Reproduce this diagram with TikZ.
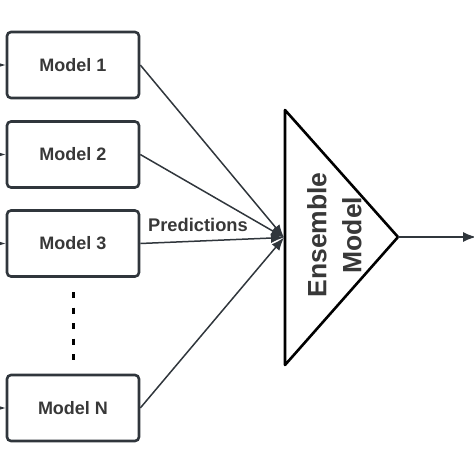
\documentclass[tikz,border=0pt]{standalone}
\usepackage{fontspec}
\setmainfont{Liberation Sans}
\usetikzlibrary{arrows.meta}
\definecolor{stroke}{HTML}{30363C}
\definecolor{txt}{HTML}{383838}
\tikzset{
  modelbox/.style={draw=stroke, line width=2.6pt, rounded corners=4pt, minimum width=132pt, minimum height=66pt, inner sep=0pt, font=\bfseries\fontsize{18}{21}\selectfont, text=txt},
  conn/.style={draw=stroke, line width=1.5pt, -{Latex[length=13pt,width=10pt]}},
  lbl/.style={font=\bfseries\fontsize{18.3}{21}\selectfont, text=txt, inner sep=0pt}
}
\begin{document}
\begin{tikzpicture}[x=1pt,y=-1pt]
\useasboundingbox (0,0) rectangle (474,474);
\clip (0,0) rectangle (474,474);
\node[modelbox] (m1) at (73,65) {Model 1};
\node[modelbox] (m2) at (73,154.5) {Model 2};
\node[modelbox] (m3) at (73,243.5) {Model 3};
\node[modelbox] (mn) at (73,408) {Model N};
\coordinate (i1) at (-16,65);
\coordinate (i2) at (-16,154.5);
\coordinate (i3) at (-16,243.5);
\coordinate (in) at (-16,408);
\foreach \a/\b in {i1/m1,i2/m2,i3/m3,in/mn} \draw[conn] (\a) -- (\b.west);
\coordinate (d1) at (73,292);
\coordinate (d2) at (73,360);
\draw[stroke, line width=3pt, dash pattern=on 6pt off 9.5pt] (d1) -- (d2);
% ensemble triangle
\coordinate (tt) at (285,110);
\coordinate (tb) at (285,365);
\coordinate (apex) at (398,237);
\coordinate (ens) at (284,237.5);
\draw[stroke, line width=2.6pt, line join=round] (tt) -- (apex) -- (tb) -- cycle;
\node[rotate=90, align=center, text=txt, font=\bfseries\fontsize{26.5}{35}\selectfont, inner sep=0pt] (lab) at (334.5,235) {Ensemble\\Model};
\draw[conn] (m1.east) -- (ens);
\draw[conn] (m2.east) -- (ens);
\draw[conn] (m3.east) -- (ens);
\draw[conn] (mn.east) -- (ens);
\node[lbl] (pred) at (198,225) {Predictions};
\coordinate (out) at (476,237);
\draw[conn] (apex) -- (out);
\end{tikzpicture}
\end{document}
